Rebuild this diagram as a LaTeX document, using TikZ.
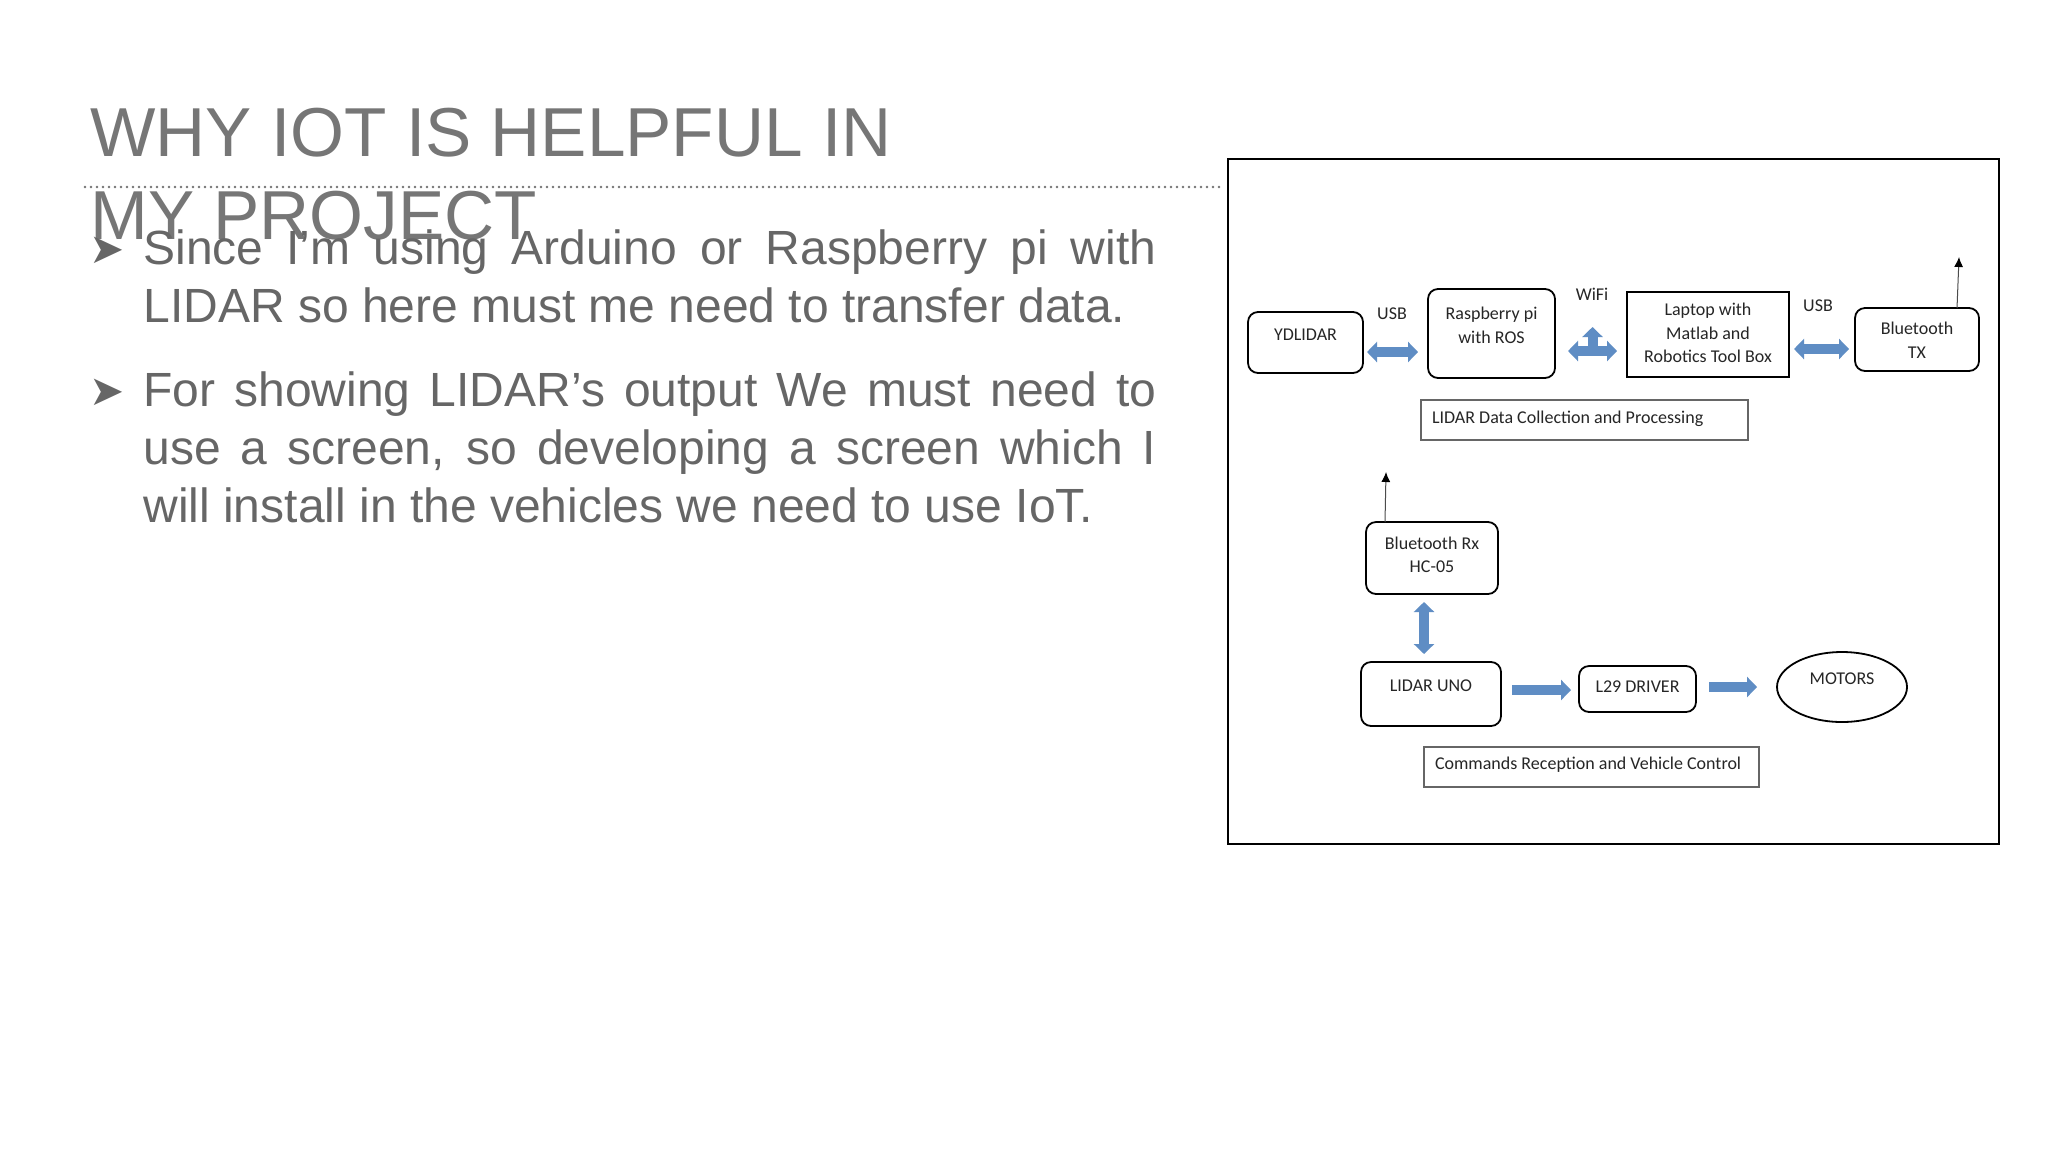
\documentclass[tikz,border=0pt]{standalone}
\usepackage{fontspec}
\setmainfont{Liberation Sans}
\newfontfamily\diafont{Carlito}
\newfontfamily\symfont{DejaVu Sans}
\usetikzlibrary{arrows.meta,shapes.geometric}
\definecolor{titlegray}{HTML}{767676}
\definecolor{bodygray}{HTML}{666666}
\definecolor{blockblue}{HTML}{5F8DC4}
\definecolor{diatext}{HTML}{262626}
\newcommand{\lab}[2]{\raisebox{#1}[0pt][0pt]{\setlength{\baselineskip}{11.75pt}\begin{tabular}{@{}c@{}}#2\end{tabular}}}
\newcommand{\jl}[1]{\makebox[506.5pt][s]{#1}}
\tikzset{
  x=0.5pt,y=-0.5pt,
  sz/.style 2 args={minimum width=#1*0.5pt,minimum height=#2*0.5pt},
  dia/.style={inner sep=0pt,outer sep=0pt,font=\diafont\fontsize{9pt}{11.75pt}\selectfont,text=diatext},
  rbox/.style={dia,draw=black,line width=0.9pt,rounded corners=5pt},
  sbox/.style={dia,draw=black,line width=0.9pt},
  capbox/.style={dia,draw=black!60,line width=0.55pt},
  elbox/.style={dia,draw=black,line width=0.9pt,ellipse},
  wire/.style={draw=black!70,line width=0.5pt,-{Latex[length=5pt,width=4.5pt,black]}},
  blockone/.style={draw=blockblue,line width=5pt,-{Triangle[length=5pt,width=10pt,fill=blockblue]}},
  blocktwo/.style={draw=blockblue,line width=5pt,{Triangle[length=5pt,width=10pt,fill=blockblue]}-{Triangle[length=5pt,width=10pt,fill=blockblue]}},
  titletext/.style={inner sep=0pt,anchor=north west,align=left,text=titlegray,font=\fontsize{34.65pt}{41.5pt}\selectfont},
  bodytext/.style={inner sep=0pt,anchor=north west,align=left,text=bodygray,font=\fontsize{24pt}{29pt}\selectfont},
  bullet/.style={inner sep=0pt,anchor=base west,text=bodygray,font=\symfont\fontsize{21pt}{21pt}\selectfont},
}
\begin{document}
\begin{tikzpicture}
\useasboundingbox (0,0) rectangle (2048,1152);
\fill[white] (0,0) rectangle (2048,1152);
% title and rule
\node[titletext] (title) at (90,108) {WHY IOT IS HELPFUL IN\\MY PROJECT};
\coordinate (ruleL) at (85,187);
\coordinate (ruleR) at (1224,187);
\draw[black!55,line width=1.4pt,line cap=round,dash pattern=on 0pt off 3pt] (ruleL) -- (ruleR);
% body
\node[bullet] (b1) at (89,263) {➤};
\node[bullet] (b2) at (89,405) {➤};
\node[bodytext] (p1) at (143,229) {\jl{Since I’m using Arduino or Raspberry pi with}\\LIDAR so here must me need to transfer data.};
\node[bodytext] (p2) at (143,371) {\jl{For showing LIDAR’s output We must need to}\\\jl{use a screen, so developing a screen which I}\\will install in the vehicles we need to use IoT.};
% frame
\node[draw=black,line width=1pt,inner sep=0pt,sz={771}{685}] (frame) at (1613,501.5) {};
% top row
\node[rbox,sz={115}{61}] (yd) at (1305.5,342.5) {\lab{1pt}{YDLIDAR}};
\node[rbox,sz={127}{89}] (rp) at (1491.5,333.5) {\lab{1pt}{Raspberry pi\\with ROS}};
\node[sbox,sz={162}{85}] (lap) at (1708,334.5) {\lab{-2.2pt}{Laptop with\\Matlab and\\Robotics Tool Box}};
\node[rbox,sz={124}{63}] (bt) at (1917,339.5) {\lab{-3.5pt}{Bluetooth\\TX}};
\node[capbox,sz={327}{40}] (cap1) at (1584.5,420) {};
\node[dia,anchor=west] (cap1t) at (1432,418.5) {LIDAR Data Collection and Processing};
\node[dia] (usb1) at (1392,314) {USB};
\node[dia] (wifi) at (1592,294) {WiFi};
\node[dia] (usb2) at (1818,306) {USB};
% bottom block
\node[rbox,sz={132}{72}] (rx) at (1432,558) {\lab{-1.5pt}{Bluetooth Rx\\HC-05}};
\node[rbox,sz={140}{64}] (uno) at (1431,694) {\lab{1.5pt}{LIDAR UNO}};
\node[rbox,sz={117}{46}] (drv) at (1637.5,689) {\lab{-1.5pt}{L29 DRIVER}};
\node[elbox,sz={130}{70}] (mot) at (1842,687) {\lab{1.5pt}{MOTORS}};
\node[capbox,sz={335}{40}] (cap2) at (1591.5,767) {};
\node[dia,anchor=west] (cap2t) at (1435,764.5) {Commands Reception and Vehicle Control};
% thin arrows
\coordinate (txUp) at (1959,257);
\coordinate (rxUp) at (1386,472);
\draw[wire] (bt.north -| 1957,0) -- (txUp);
\draw[wire] (rx.north -| 1385,0) -- (rxUp);
% block arrows
\coordinate (a1) at (1367,352); \coordinate (a2) at (1418,352);
\draw[blocktwo] (a1) -- (a2);
\coordinate (t1) at (1568,351); \coordinate (t2) at (1617,351); \coordinate (t3) at (1592.5,327);
\draw[blocktwo] (t1) -- (t2);
\draw[blockone] (1592.5,351) -- (t3);
\coordinate (c1) at (1794,349); \coordinate (c2) at (1849,349);
\draw[blocktwo] (c1) -- (c2);
\coordinate (v1) at (1424,602); \coordinate (v2) at (1424,654);
\draw[blocktwo] (v1) -- (v2);
\coordinate (d1) at (1512,690); \coordinate (d2) at (1571,690);
\draw[blockone] (d1) -- (d2);
\coordinate (e1) at (1709,687); \coordinate (e2) at (1757,687);
\draw[blockone] (e1) -- (e2);
\end{tikzpicture}
\end{document}
